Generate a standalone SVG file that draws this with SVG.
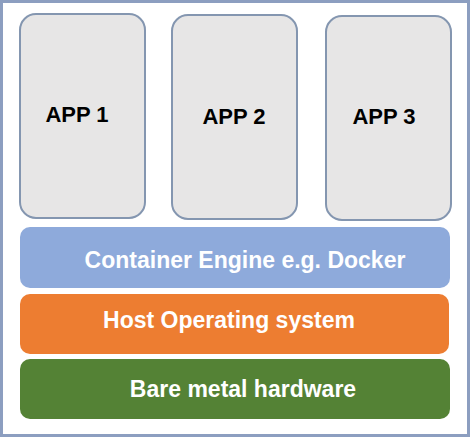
<svg xmlns="http://www.w3.org/2000/svg" width="474" height="439" viewBox="0 0 474 439">
<style>
.app{fill:#e7e6e6;stroke:#8496b0;stroke-width:2}
.apptxt{font-family:"Liberation Sans",Arial,sans-serif;font-weight:bold;font-size:22px;fill:#000;text-anchor:middle}
.bartxt{font-family:"Liberation Sans",Arial,sans-serif;font-weight:bold;font-size:23px;fill:#fff;text-anchor:middle}
</style>
<rect x="0" y="0" width="474" height="439" fill="#fff"/>
<rect id="frame" x="1.5" y="1.5" width="467" height="434" fill="#fff" stroke="#8c9ec0" stroke-width="3"/>
<g id="app1"><rect class="app" x="20" y="14" width="125" height="204" rx="16"/><text class="apptxt" x="77" y="122">APP 1</text></g>
<g id="app2"><rect class="app" x="172" y="15" width="125" height="204" rx="16"/><text class="apptxt" x="234" y="124">APP 2</text></g>
<g id="app3"><rect class="app" x="326" y="16" width="125" height="204" rx="16"/><text class="apptxt" x="384" y="124">APP 3</text></g>
<g id="engine"><rect x="20" y="227" width="430" height="61" rx="10" fill="#8eaadb"/><text class="bartxt" x="245" y="268">Container Engine e.g. Docker</text></g>
<g id="os"><rect x="20" y="294" width="429" height="60" rx="10" fill="#ed7d31"/><text class="bartxt" x="229" y="328">Host Operating system</text></g>
<g id="hw"><rect x="20" y="359" width="430" height="60" rx="10" fill="#548235"/><text class="bartxt" x="243" y="397">Bare metal hardware</text></g>
<g id="connectors"/>
</svg>
